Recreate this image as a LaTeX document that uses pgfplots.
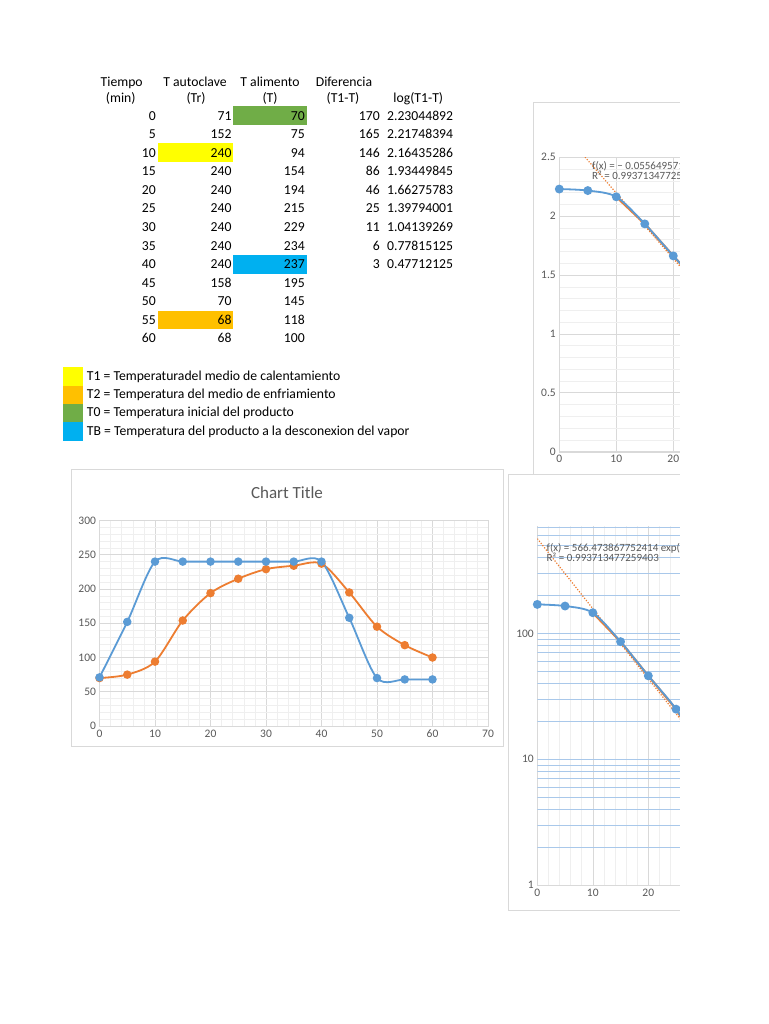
\documentclass[border=0pt]{standalone}
\usepackage{fontspec}
\setmainfont{Carlito}
\usepackage{pgfplots}
\usepackage{pgfplotstable}
\pgfplotsset{compat=1.18}

\definecolor{serieA}{HTML}{5B9BD5}
\definecolor{serieB}{HTML}{ED7D31}
\definecolor{gmaj}{HTML}{D9D9D9}
\definecolor{gmin}{HTML}{EFEFEF}
\definecolor{gristxt}{HTML}{595959}
\definecolor{azulgrid}{HTML}{A9C8EA}
\definecolor{cverde}{HTML}{70AD47}
\definecolor{camarillo}{HTML}{FFFF00}
\definecolor{ccian}{HTML}{00B0F0}
\definecolor{cnaranja}{HTML}{FFC000}

\pgfplotstableread{
t  Tr  T
0  71  70
5  152 75
10 240 94
15 240 154
20 240 194
25 240 215
30 240 229
35 240 234
40 240 237
45 158 195
50 70  145
55 68  118
60 68  100
}\temperaturas

\pgfplotstableread{
t  d   lg
0  170 2.23044892
5  165 2.21748394
10 146 2.16435286
15 86  1.93449845
20 46  1.66275783
25 25  1.39794001
30 11  1.04139269
35 6   0.77815125
40 3   0.47712125
}\diferencias

\pgfplotsset{excel/.style={
  scale only axis,
  axis line style={draw=gmaj},
  major tick length=0pt, minor tick length=0pt,
  ticklabel style={font=\fontsize{11.5}{13}\selectfont, text=gristxt},
  /pgf/number format/assume math mode=true,
}}

\begin{document}
\begin{tikzpicture}
\useasboundingbox (0,0) rectangle (768pt,-1024pt);
\fill[white] (0,0) rectangle (768pt,-1024pt);

% --- colored cells
\fill[cverde]    (233.3pt,-106pt)   rectangle (307.3pt,-125pt);
\fill[camarillo] (158.3pt,-143.3pt) rectangle (233.3pt,-162.3pt);
\fill[ccian]     (233.3pt,-255pt)   rectangle (307.3pt,-274pt);
\fill[cnaranja]  (158.3pt,-310.7pt) rectangle (233.3pt,-329.3pt);

% --- table
\begin{scope}[every node/.style={font=\fontsize{13.7}{15}\selectfont, inner sep=0pt}]
\node[anchor=base] at (121.7pt,-87pt) {Tiempo};
\node[anchor=base] at (120.7pt,-102.5pt) {(min)};
\node[anchor=base] at (195pt,-87pt) {T autoclave};
\node[anchor=base] at (196pt,-102.5pt) {(Tr)};
\node[anchor=base] at (270pt,-87pt) {T alimento};
\node[anchor=base] at (270pt,-102.5pt) {(T)};
\node[anchor=base] at (344pt,-87pt) {Diferencia};
\node[anchor=base] at (343pt,-102.5pt) {(T1-T)};
\node[anchor=base] at (418.3pt,-102.5pt) {log(T1-T)};
\foreach \i/\a/\b/\c in {0/0/71/70,1/5/152/75,2/10/240/94,3/15/240/154,4/20/240/194,
  5/25/240/215,6/30/240/229,7/35/240/234,8/40/240/237,9/45/158/195,10/50/70/145,
  11/55/68/118,12/60/68/100}{
  \node[anchor=base east] at (156pt,{-120.2pt-18.55pt*\i}) {\a};
  \node[anchor=base east] at (231.7pt,{-120.2pt-18.55pt*\i}) {\b};
  \node[anchor=base east] at (305pt,{-120.2pt-18.55pt*\i}) {\c};
}
\foreach \i/\d/\l in {0/170/2.23044892,1/165/2.21748394,2/146/2.16435286,3/86/1.93449845,
  4/46/1.66275783,5/25/1.39794001,6/11/1.04139269,7/6/0.77815125,8/3/0.47712125}{
  \node[anchor=base east] at (380pt,{-120.2pt-18.55pt*\i}) {\d};
  \node[anchor=base east] at (453.3pt,{-120.2pt-18.55pt*\i}) {\l};
}
% legend of colours
\fill[camarillo] (63.3pt,-367.3pt) rectangle (83.3pt,-385.7pt);
\fill[cnaranja]  (63.3pt,-385.7pt) rectangle (83.3pt,-404pt);
\fill[cverde]    (63.3pt,-404pt)   rectangle (83.3pt,-422.3pt);
\fill[ccian]     (63.3pt,-422.3pt) rectangle (83.3pt,-440.7pt);
\node[anchor=base west] at (86.7pt,-380.3pt) {T1 = Temperaturadel medio de calentamiento};
\node[anchor=base west] at (86.7pt,-398.6pt) {T2 = Temperatura del medio de enfriamiento};
\node[anchor=base west] at (86.7pt,-416.9pt) {T0 = Temperatura inicial del producto};
\node[anchor=base west] at (86.7pt,-435.3pt) {TB = Temperatura del producto a la desconexion del vapor};
\end{scope}

% --- chart frames
\draw[gmaj, line width=0.8pt] (71pt,-469pt) rectangle (503pt,-746pt);
\draw[gmaj, line width=0.8pt] (533pt,-102pt) rectangle (760pt,-474pt);
\draw[gmaj, line width=0.8pt] (508pt,-474pt) rectangle (760pt,-910pt);

% --- main chart
\node[font=\fontsize{17}{20}\selectfont, text=gristxt] at (287pt,-493pt) {Chart Title};
\begin{axis}[excel,
  at={(99.5pt,-726pt)}, anchor=south west,
  width=388.5pt, height=205.5pt,
  xmin=0, xmax=70, ymin=0, ymax=300,
  xtick distance=10, ytick distance=50,
  minor x tick num=4, minor y tick num=4,
  grid=both,
  major grid style={gmaj, line width=0.7pt},
  minor grid style={gmin, line width=0.5pt},
]
\addplot[serieB, line width=1.8pt, smooth, mark=*, mark size=3.3pt,
  mark options={fill=serieB, draw=serieB}] table[x=t, y=T] {\temperaturas};
\addplot[serieA, line width=1.8pt, smooth, mark=*, mark size=3.3pt,
  mark options={fill=serieA, draw=serieA}] table[x=t, y=Tr] {\temperaturas};
\end{axis}

% --- log(T1-T) chart (cut at the right edge of the page)
\begin{axis}[excel,
  at={(559.3pt,-451.7pt)}, anchor=south west,
  width=120.7pt, height=294.4pt,
  axis x line*=bottom, axis y line*=left,
  xmin=0, xmax=21.18, ymin=0, ymax=2.5,
  xtick={0,10,20}, ytick distance=0.5,
  minor y tick num=4,
  xmajorgrids, ymajorgrids, yminorgrids,
  major grid style={gmaj, line width=0.7pt},
  minor grid style={gmin, line width=0.5pt},
]
\addplot[serieB, line width=2.2pt, restrict x to domain=10:40] table[x=t, y=lg] {\diferencias};
\addplot[serieB, line width=1.2pt, dash pattern=on 1.2pt off 1.6pt] coordinates {(0,2.7531826) (45,0.2489502)};
\addplot[serieA, line width=1.8pt, smooth, mark=*, mark size=3.5pt,
  mark options={fill=serieA, draw=serieA}] table[x=t, y=lg] {\diferencias};
\end{axis}
\begin{scope}[every node/.style={font=\fontsize{11}{12}\selectfont, text=gristxt, inner sep=0pt, anchor=base west}]
\node at (592pt,-170pt) {f(x) = − 0.0556495712x + 2.7531826};
\node at (592pt,-180pt) {R² = 0.993713477259403};
\end{scope}

% --- T1-T log chart (cut at the right edge of the page)
\begin{axis}[excel,
  at={(537.3pt,-885pt)}, anchor=south west,
  width=142.7pt, height=358.7pt,
  axis x line*=bottom, axis y line*=left,
  ymode=log, log ticks with fixed point,
  xmin=0, xmax=25.71, ymin=1, ymax=710,
  xtick={0,10,20}, minor xtick={2,4,6,8,12,14,16,18,22,24},
  ytick={1,10,100},
  xmajorgrids, xminorgrids,
  major x grid style={draw=gmaj, line width=0.6pt},
  minor x grid style={draw=gmin, line width=0.6pt},
]
% horizontal log grid in light blue
\pgfplotsinvokeforeach{2,3,4,5,6,7,8,9,10,20,30,40,50,60,70,80,90,100,200,300,400,500,600,700}{
  \draw[azulgrid, line width=0.9pt] (axis cs:0,#1) -- (axis cs:25.71,#1);
}
\addplot[serieB, line width=2.2pt, restrict x to domain=10:40] table[x=t, y=d] {\diferencias};
\addplot[serieB, line width=1.2pt, dash pattern=on 1.2pt off 1.6pt] coordinates {(0,566.473867752414) (45,1.774)};
\addplot[serieA, line width=1.8pt, smooth, mark=*, mark size=3.5pt,
  mark options={fill=serieA, draw=serieA}] table[x=t, y=d] {\diferencias};
\end{axis}
\begin{scope}[every node/.style={font=\fontsize{11}{12}\selectfont, text=gristxt, inner sep=0pt, anchor=base west}]
\node at (546.5pt,-551pt) {f(x) = 566.473867752414 exp( − 0.128138 x )};
\node at (546.5pt,-561.5pt) {R² = 0.993713477259403};
\end{scope}

% page is cut at the right
\fill[white] (680pt,0) rectangle (768pt,-1024pt);
\end{tikzpicture}
\end{document}
